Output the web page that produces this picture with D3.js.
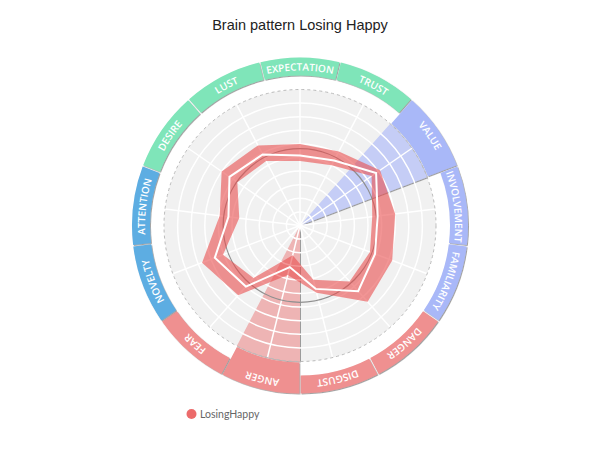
<!DOCTYPE html>
<html>
<head>
<meta charset="utf-8">
<script src="https://cdn.jsdelivr.net/npm/d3@7"></script>
<style>
  body { margin: 0; background: #fff; }
  svg { display: block; }
</style>
</head>
<body>
<svg width="600" height="454"></svg>
<script>
var width = 600,
    height = 454;

const cx = 300, cy = 225.5;
const grid_radius = 136;
const ring_inner = 150;
const ring_outer = 168;
const levels = 10;

// categories clockwise from the top
const categories = ["EXPECTATION", "TRUST", "VALUE", "INVOLVEMENT", "FAMILIARITY", "DANGER",
    "DISGUST", "ANGER", "FEAR", "NOVELTY", "ATTENTION", "DESIRE", "LUST"];
const groups = ["green", "green", "violet", "violet", "violet", "red",
    "red", "red", "red", "blue", "blue", "green", "green"];
const highlighted = ["VALUE", "ANGER"];

// LosingHappy band: upper edge, centre line, lower edge (0..10)
const upper = [6.0, 6.15, 7.15, 7.05, 7.25, 7.5, 5.1, 3.75, 6.85, 7.7, 5.95, 7.0, 6.65];
const middle = [5.15, 5.4, 6.8, 5.75, 5.9, 6.45, 4.8, 3.15, 6.0, 6.7, 5.3, 6.3, 5.9];
const lower = [4.75, 5.0, 6.4, 5.35, 5.5, 5.5, 4.1, 2.25, 5.15, 6.05, 4.5, 5.6, 5.35];
const baseline = 5.65;

const series_name = "LosingHappy";
const title = "Brain pattern Losing Happy";

const group_colors = { green: "#7fe5b9", violet: "#a9b8f8", red: "#ef9090", blue: "#5dade2" };
const wedge_colors = { violet: "#c5cdf6", red: "#eeb4b4" };

const step = 2 * Math.PI / categories.length;
const r = d3.scaleLinear().domain([0, levels]).range([0, grid_radius]);

const svg = d3.select("svg");

// shadow for the outer segments and wedges
const defs = svg.append("defs");
const shadow = defs.append("filter").attr("id", "shadow")
    .attr("x", "-20%").attr("y", "-20%").attr("width", "140%").attr("height", "140%");
shadow.append("feDropShadow")
    .attr("dx", 0.8).attr("dy", 0.8).attr("stdDeviation", 0.6)
    .attr("flood-color", "#333").attr("flood-opacity", 0.55);

svg.append("text")
    .attr("x", width / 2)
    .attr("y", 30)
    .attr("text-anchor", "middle")
    .style("font-family", "'Liberation Sans', Arial, sans-serif")
    .style("font-size", "14.5px")
    .style("fill", "#222")
    .text(title);

const g = svg.append("g").attr("transform", "translate(" + cx + "," + cy + ")");

// background disc
g.append("circle").attr("r", grid_radius).attr("fill", "#f1f1f1");

// highlighted wedges
const wedge = d3.arc().innerRadius(0).outerRadius(grid_radius);
g.append("g").selectAll("path")
    .data(categories.filter(function (c) { return highlighted.indexOf(c) >= 0; }))
    .join("path")
    .attr("d", function (c) {
        const i = categories.indexOf(c);
        return wedge({ startAngle: (i - 0.5) * step, endAngle: (i + 0.5) * step });
    })
    .attr("fill", function (c) { return wedge_colors[groups[categories.indexOf(c)]]; })
    .attr("filter", "url(#shadow)");

// grid rings
g.append("g").selectAll("circle")
    .data(d3.range(1, levels))
    .join("circle")
    .attr("r", function (d) { return r(d); })
    .attr("fill", "none")
    .attr("stroke", "#fff")
    .attr("stroke-width", 1.5);

// spokes
g.append("g").selectAll("line")
    .data(categories)
    .join("line")
    .attr("x1", 0).attr("y1", 0)
    .attr("x2", function (d, i) { return r(levels) * Math.sin(i * step); })
    .attr("y2", function (d, i) { return -r(levels) * Math.cos(i * step); })
    .attr("stroke", "#fff")
    .attr("stroke-width", 1.5);

// dashed edge
g.append("circle")
    .attr("r", grid_radius)
    .attr("fill", "none")
    .attr("stroke", "#bbb")
    .attr("stroke-dasharray", "3,3");

// reference circle
g.append("circle")
    .attr("r", r(baseline))
    .attr("fill", "none")
    .attr("stroke", "#8f8f8f")
    .attr("stroke-width", 1.3);

// band + centre line
const line = d3.lineRadial()
    .angle(function (d, i) { return i * step; })
    .radius(function (d) { return r(d); })
    .curve(d3.curveLinearClosed);

g.append("path")
    .attr("d", line(upper) + line(lower))
    .attr("fill", "#e94f4f")
    .attr("fill-opacity", 0.6)
    .attr("fill-rule", "evenodd");

g.append("path")
    .attr("d", line(middle))
    .attr("fill", "none")
    .attr("stroke", "#fff")
    .attr("stroke-width", 2);

// outer labelled segments
const seg_arc = d3.arc()
    .innerRadius(function (d) { return highlighted.indexOf(d.name) >= 0 ? grid_radius + 1 : ring_inner; })
    .outerRadius(ring_outer)
    .padAngle(0.006);

const segs = categories.map(function (c, i) {
    return { name: c, group: groups[i], startAngle: (i - 0.5) * step, endAngle: (i + 0.5) * step };
});

g.append("g").selectAll("path")
    .data(segs)
    .join("path")
    .attr("d", seg_arc)
    .attr("fill", function (d) { return group_colors[d.group]; })
    .attr("filter", "url(#shadow)");

// label paths: clockwise arcs
const label_r = 155;
function pt(a, rad) {
    return [rad * Math.sin(a), -rad * Math.cos(a)];
}
defs.selectAll("path.lab")
    .data(segs)
    .join("path")
    .attr("class", "lab")
    .attr("id", function (d, i) { return "lab" + i; })
    .attr("d", function (d) {
        const p0 = pt(d.startAngle, label_r), p1 = pt(d.endAngle, label_r);
        return "M" + p0[0] + "," + p0[1] + " A" + label_r + "," + label_r + " 0 0 1 " + p1[0] + "," + p1[1];
    });

g.append("g").selectAll("text")
    .data(segs)
    .join("text")
    .style("font-family", "'Open Sans', 'Noto Sans', sans-serif")
    .style("font-size", "10px")
    .style("font-weight", 600)
    .style("fill", "#fff")
    .append("textPath")
    .attr("href", function (d, i) { return "#lab" + i; })
    .attr("startOffset", "50%")
    .attr("text-anchor", "middle")
    .text(function (d) { return d.name; });

// legend
const legend = svg.append("g").attr("transform", "translate(191.5,414)");
legend.append("circle").attr("r", 5).attr("fill", "#ec6b6b");
legend.append("text")
    .attr("x", 8.5)
    .attr("y", 3.6)
    .style("font-family", "Lato, 'Open Sans', sans-serif")
    .style("font-size", "10.5px")
    .style("fill", "#666")
    .text(series_name);
</script>
</body>
</html>
